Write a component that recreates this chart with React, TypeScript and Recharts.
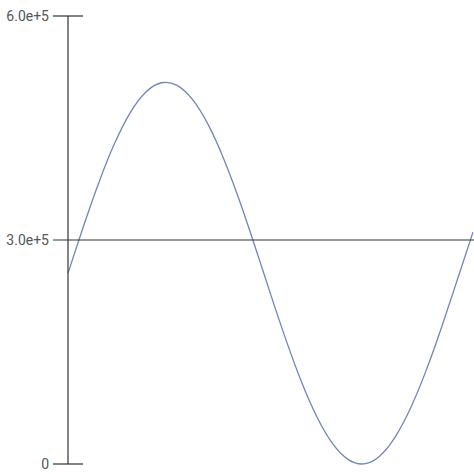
import React from "react";
import { LineChart, Line, XAxis, YAxis } from "recharts";

const xValues = [0, 0.25, 0.5, 0.75, 1, 1.25, 1.5, 1.75, 2, 2.25, 2.5, 2.75, 3, 3.25, 3.5, 3.75, 4, 4.25, 4.5, 4.75, 5, 5.25, 5.5, 5.75, 6, 6.25, 6.5];
const yValues = [255600, 318800, 378100, 429800, 470700, 498200, 510600, 507100, 488000, 454500, 408600, 353200, 291700, 227900, 165900, 109500, 62200, 26800, 5800, 200, 10500, 36100, 75300, 125700, 184200, 247100, 310600];
const yTicks = [0, 300000, 600000];
const yTickLabels = ["0", "3.0e+5", "6.0e+5"];
const crossValue = 300000;

const data = xValues.map((x, i) => ({ x, y: yValues[i] }));

const W = 474;
const H = 474;
const MARGIN = { top: 16, right: 1, bottom: 10, left: 0 };
const AXIS_W = 68;
const PLOT_W = W - MARGIN.left - MARGIN.right - AXIS_W;

const Tick = (props: any) => {
  const { x, y, payload } = props;
  const idx = yTicks.indexOf(payload.value);
  const label = idx >= 0 ? yTickLabels[idx] : String(payload.value);
  const x2 = payload.value === crossValue ? x + PLOT_W + 2 : x + 15;
  return (
    <g>
      <line x1={x - 15} y1={y} x2={x2} y2={y} stroke="#333" strokeWidth={1.2} />
      <text x={x - 19} y={y} dy={5} textAnchor="end" fill="#555" fontSize={14} fontFamily="Roboto, sans-serif">
        {label}
      </text>
    </g>
  );
};

export default function App() {
  return (
    <div style={{ position: "absolute", left: 0, top: 0, width: W, height: H, background: "#fff" }}>
      <LineChart width={W} height={H} data={data} margin={MARGIN}>
        <XAxis dataKey="x" type="number" domain={[0, 6.5]} hide />
        <YAxis
          type="number"
          domain={[0, 600000]}
          ticks={yTicks}
          width={AXIS_W}
          tickSize={0}
          tickMargin={0}
          tickLine={false}
          axisLine={{ stroke: "#333", strokeWidth: 1.2 }}
          tick={<Tick />}
          interval={0}
        />
        <Line
          type="natural"
          dataKey="y"
          stroke="#7086b5"
          strokeWidth={1.3}
          dot={false}
          isAnimationActive={false}
        />
      </LineChart>
    </div>
  );
}
